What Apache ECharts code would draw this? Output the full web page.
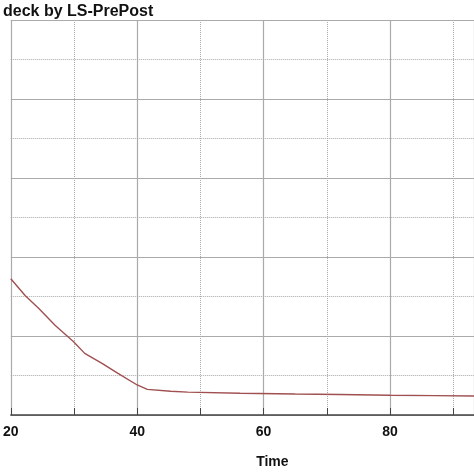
<!DOCTYPE html>
<html>
<head>
<meta charset="utf-8">
<script src="https://cdn.jsdelivr.net/npm/echarts@6/dist/echarts.min.js"></script>
<style>html,body{margin:0;padding:0;background:#fff}</style>
</head>
<body>
<div id="main" style="width:474px;height:474px"></div>
<script>
var times = [20, 22.3, 24.4, 27, 29.9, 31.7, 34.5, 36.9, 40, 41.6, 45.3, 48, 56.3, 65, 72, 80, 87, 93.3];
var values = [3.45, 3.02, 2.70, 2.27, 1.86, 1.56, 1.30, 1.06, 0.76, 0.65, 0.60, 0.58, 0.55, 0.53, 0.52, 0.50, 0.49, 0.48];

var chart = echarts.init(document.getElementById('main'));
chart.setOption({
  animation: false,
  title: {
    text: 'deck by LS-PrePost', left: -2, top: -1,
    textStyle: { fontFamily: 'Liberation Sans', fontWeight: 'bold', fontSize: 16, color: '#111' }
  },
  grid: { left: 5, right: 0, top: 20, bottom: 57 },
  xAxis: {
    type: 'value', min: 20, max: 93.3, interval: 20,
    name: 'Time', nameLocation: 'middle', nameGap: 40,
    nameTextStyle: { fontFamily: 'Liberation Sans', fontWeight: 'bold', fontSize: 14, color: '#111', padding: [0, 0, 0, 60] },
    axisLine: { lineStyle: { color: '#444', width: 1.5 } },
    axisTick: { show: true, inside: true, length: 7, lineStyle: { color: '#444' } },
    minorTick: { show: true, splitNumber: 2, length: 7, lineStyle: { color: '#444' } },
    axisLabel: {
      fontFamily: 'Liberation Sans', fontWeight: 'bold', fontSize: 14, color: '#111', margin: 10,
      showMinLabel: true, showMaxLabel: false,
      formatter: function (v) { return v % 20 === 0 ? v : ''; }
    },
    splitLine: { show: true, lineStyle: { color: '#aaa', width: 1.2 } },
    minorSplitLine: { show: true, lineStyle: { color: '#aaa', type: 'dotted' } }
  },
  yAxis: {
    type: 'value', min: 0, max: 10, interval: 2,
    axisLine: { show: false }, axisTick: { show: false }, axisLabel: { show: false },
    minorTick: { show: false, splitNumber: 2 },
    splitLine: { show: true, lineStyle: { color: '#aaa', width: 1.2 } },
    minorSplitLine: { show: true, lineStyle: { color: '#aaa', type: 'dotted' } }
  },
  series: [{
    type: 'line', symbol: 'none',
    data: times.map(function (t, i) { return [t, values[i]]; }),
    lineStyle: { color: '#a05050', width: 1.4 }
  }]
});
</script>
</body>
</html>
